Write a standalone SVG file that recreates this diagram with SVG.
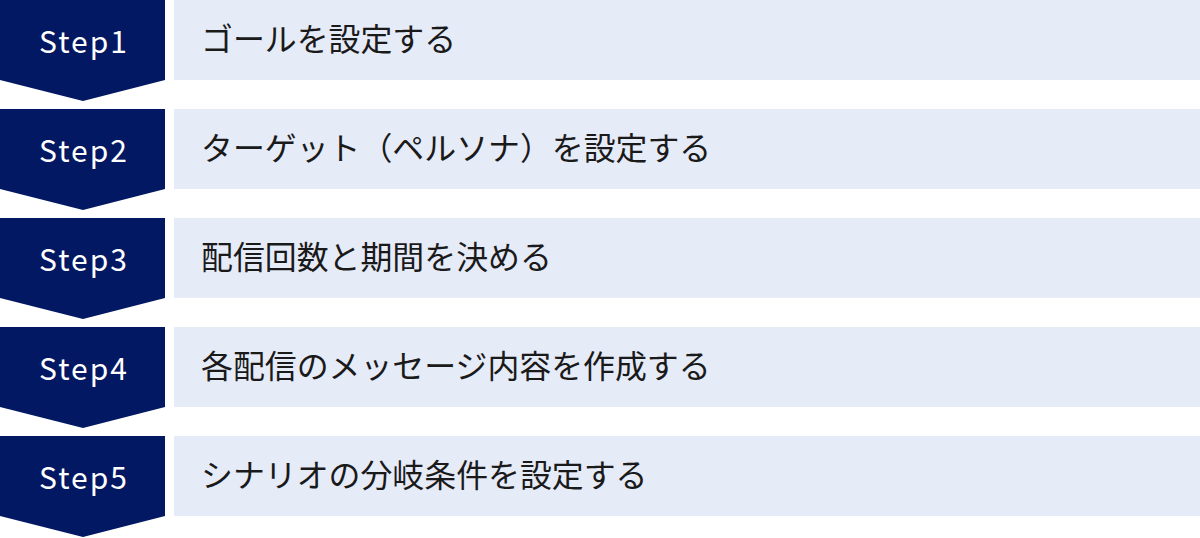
<svg xmlns="http://www.w3.org/2000/svg" width="1200" height="538" viewBox="0 0 1200 538">
<style>
.badge{fill:#031862}
.box{fill:#e6ebf8}
.lbl{font-family:"Noto Sans CJK JP","Noto Sans",sans-serif;font-size:30px;fill:#ffffff;letter-spacing:2px}
.txt{font-family:"Noto Sans CJK JP","Noto Sans",sans-serif;font-size:31.9px;fill:#1a1a1a}
</style>
<rect width="1200" height="538" fill="#ffffff"/>
<g id="step1">
<polygon class="badge" points="0,0 165,0 165,80 83,101 0,80"/>
<rect class="box" x="174" y="0" width="1026" height="80"/>
<text class="lbl" x="84" y="53" text-anchor="middle">Step1</text>
<text class="txt" x="201" y="51">ゴールを設定する</text>
</g>
<g id="step2">
<polygon class="badge" points="0,109 165,109 165,189 83,210 0,189"/>
<rect class="box" x="174" y="109" width="1026" height="80"/>
<text class="lbl" x="84" y="162" text-anchor="middle">Step2</text>
<text class="txt" x="201" y="160">ターゲット（ペルソナ）を設定する</text>
</g>
<g id="step3">
<polygon class="badge" points="0,218 165,218 165,298 83,319 0,298"/>
<rect class="box" x="174" y="218" width="1026" height="80"/>
<text class="lbl" x="84" y="271" text-anchor="middle">Step3</text>
<text class="txt" x="201" y="269">配信回数と期間を決める</text>
</g>
<g id="step4">
<polygon class="badge" points="0,327 165,327 165,407 83,428 0,407"/>
<rect class="box" x="174" y="327" width="1026" height="80"/>
<text class="lbl" x="84" y="380" text-anchor="middle">Step4</text>
<text class="txt" x="201" y="378">各配信のメッセージ内容を作成する</text>
</g>
<g id="step5">
<polygon class="badge" points="0,436 165,436 165,516 83,537 0,516"/>
<rect class="box" x="174" y="436" width="1026" height="80"/>
<text class="lbl" x="84" y="489" text-anchor="middle">Step5</text>
<text class="txt" x="201" y="487">シナリオの分岐条件を設定する</text>
</g>
<g id="connectors"></g>
</svg>
